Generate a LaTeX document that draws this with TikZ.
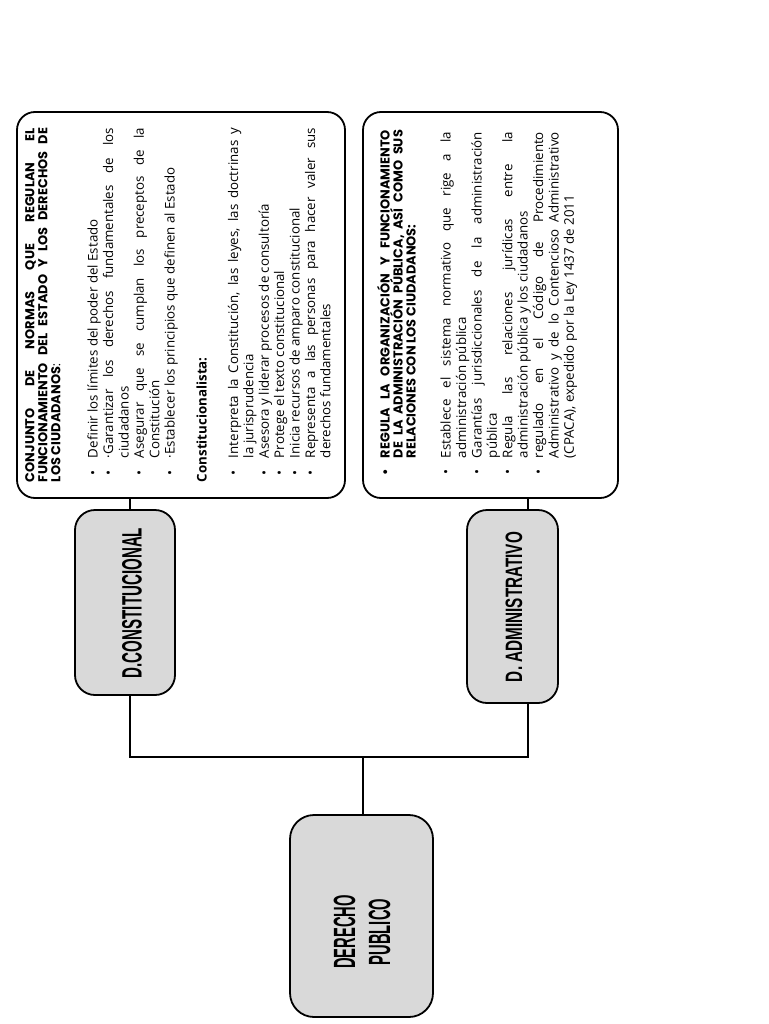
\documentclass[tikz,border=0pt]{standalone}
\usepackage{fontspec}
\usepackage{graphicx}
\setmainfont{Open Sans}
\newfontfamily\hdfont{Poppins}
\newfontfamily\lblfont{Liberation Sans}
\definecolor{boxgray}{HTML}{D9D9D9}
\newlength\bw
\newcommand\bul{\hbox to\bw{\hbox to 6pt{\hss\textbullet\hss}\hss}}
\newcommand\LJ[1]{\hbox to\hsize{#1}}
\newcommand\LR[1]{\hbox{#1}}
\newcommand\BJ[1]{\hbox to\hsize{\bul #1}}
\newcommand\BR[1]{\hbox{\bul #1}}
\newcommand\CJ[1]{\hbox to\hsize{\kern\bw #1}}
\newcommand\CR[1]{\hbox{\kern\bw #1}}
\newcommand\bodyset{\fontsize{13.3}{15.4}\selectfont\lineskiplimit=-30pt\relax}
\newcommand\hdset{\hdfont\bfseries\fontsize{12.9}{13}\selectfont\lineskiplimit=-30pt\relax}
\begin{document}
\begin{tikzpicture}[x=1pt,y=-1pt,
  txt/.style={rotate=90,inner sep=0pt,outer sep=0pt,anchor=base west},
  lbl/.style={rotate=90,inner sep=0pt,outer sep=0pt,anchor=center},
  content/.style={draw=black,line width=1.8pt,fill=white,rounded corners=18pt,inner sep=0pt},
  graybox/.style={draw=black,line width=1.8pt,fill=boxgray,rounded corners=20pt,inner sep=0pt},
  conn/.style={draw=black,line width=1.6pt}]
\useasboundingbox (0,0) rectangle (768,1024);
\fill[white] (0,0) rectangle (768,1024);
% boxes
\node[content,minimum width=328pt,minimum height=386pt] (cbox) at (181,305) {};
\node[content,minimum width=255pt,minimum height=386pt] (abox) at (490.5,305) {};
\node[graybox,minimum width=100pt,minimum height=185pt] (dconst) at (125,602.5) {};
\node[graybox,minimum width=91pt,minimum height=193pt] (dadmin) at (512.5,606.5) {};
\node[graybox,rounded corners=24pt,minimum width=143pt,minimum height=202pt] (dpub) at (361.5,916) {};
% connectors
\coordinate (cx1) at (130,0);
\coordinate (cx2) at (528,0);
\coordinate (j) at (363,757);
\draw[conn] (cx1 |- cbox.south) -- (cx1 |- dconst.north);
\draw[conn] (cx2 |- abox.south) -- (cx2 |- dadmin.north);
\draw[conn] (cx1 |- dconst.south) |- (j) -| (cx2 |- dadmin.south);
\draw[conn] (j) -- (j |- dpub.north);
% labels
\node[lbl] (lconst) at (132,603) {\scalebox{0.54}[1]{\lblfont\bfseries\fontsize{28}{28}\selectfont D.CONSTITUCIONAL}};
\node[lbl] (ladmin) at (514,607) {\scalebox{0.645}[1]{\lblfont\bfseries\fontsize{23.7}{24}\selectfont D. ADMINISTRATIVO}};
\node[lbl] (lpub) at (365.5,932) {\scalebox{0.48}[1]{\lblfont\bfseries\fontsize{30.7}{35}\selectfont\begin{tabular}{@{}c@{}}DERECHO\\PUBLICO\end{tabular}}};
% constitutional texts
\node[txt] (chead) at (34.3,482) {\vtop{\hsize=354pt\hdset
  \LJ{CONJUNTO DE NORMAS QUE REGULAN EL}
  \LJ{FUNCIONAMIENTO DEL ESTADO Y LOS DERECHOS DE}
  \LR{LOS CIUDADANOS{\mdseries :}}}};
\node[txt] (clist) at (97.7,476) {\vtop{\hsize=348pt\bw=18pt\bodyset
  \BR{Definir los límites del poder del Estado}
  \BJ{·Garantizar los derechos fundamentales de los}
  \CR{ciudadanos}
  \BJ{Asegurar que se cumplan los preceptos de la}
  \CR{Constitución}
  \BR{·Establecer los principios que definen al Estado}}};
\node[txt] (ctitle) at (206.5,482) {\bodyset\bfseries Constitucionalista:};
\node[txt] (clist2) at (238,476) {\vtop{\hsize=348pt\bw=18pt\bodyset
  \BJ{Interpreta la Constitución, las leyes, las doctrinas y}
  \CR{la jurisprudencia}
  \BR{Asesora y liderar procesos de consultoría}
  \BR{Protege el texto constitucional}
  \BR{Inicia recursos de amparo constitucional}
  \BJ{Representa a las personas para hacer valer sus}
  \CR{derechos fundamentales}}};
% administrative texts
\node[txt] (ahead) at (389.5,475) {\vtop{\hsize=345pt\bw=17pt\hdset
  \BJ{REGULA LA ORGANIZACIÓN Y FUNCIONAMIENTO}
  \CJ{DE LA ADMINISTRACIÓN PÚBLICA, ASÍ COMO SUS}
  \CR{RELACIONES CON LOS CIUDADANOS:}}};
\node[txt] (alist) at (450.7,475) {\vtop{\hsize=343pt\bw=17pt\bodyset
  \BJ{Establece el sistema normativo que rige a la}
  \CR{administración pública}
  \BJ{Garantías jurisdiccionales de la administración}
  \CR{pública}
  \BJ{Regula las relaciones jurídicas entre la}
  \CR{administración pública y los ciudadanos}
  \BJ{regulado en el Código de Procedimiento}
  \CJ{Administrativo y de lo Contencioso Administrativo}
  \CR{(CPACA), expedido por la Ley 1437 de 2011}}};
\end{tikzpicture}
\end{document}
